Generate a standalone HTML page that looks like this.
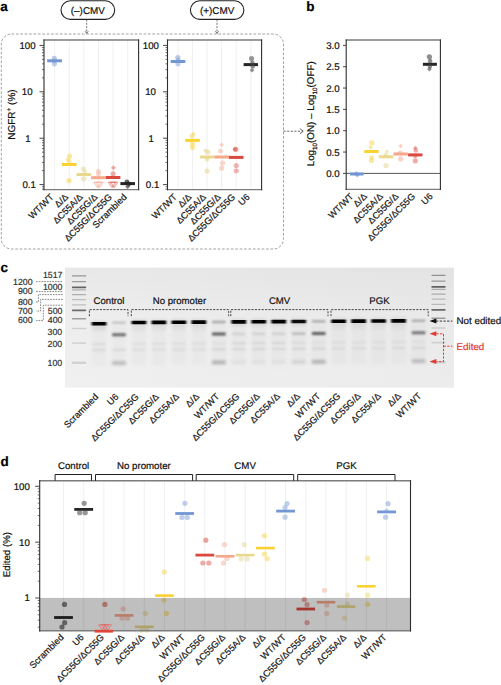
<!DOCTYPE html>
<html><head><meta charset="utf-8"><style>
html,body{margin:0;padding:0;background:#fff;width:501px;height:685px;overflow:hidden}
svg{display:block}
text{font-family:"Liberation Sans",sans-serif;text-rendering:geometricPrecision}
</style></head><body>
<svg width="501" height="685" viewBox="0 0 501 685">
<text x="0.30" y="11.40" font-size="13.5" text-anchor="start" fill="#000" stroke="#000" stroke-width="0.2" font-weight="bold">a</text>
<text x="306.20" y="11.20" font-size="13.5" text-anchor="start" fill="#000" stroke="#000" stroke-width="0.2" font-weight="bold">b</text>
<text x="0.60" y="272.20" font-size="13.5" text-anchor="start" fill="#000" stroke="#000" stroke-width="0.2" font-weight="bold">c</text>
<text x="0.40" y="466.40" font-size="13.5" text-anchor="start" fill="#000" stroke="#000" stroke-width="0.2" font-weight="bold">d</text>
<rect x="61.00" y="0.80" width="53.70" height="18.60" rx="9.3" fill="#fff" stroke="#222" stroke-width="1.1"/>
<text x="87.85" y="14.30" font-size="9.9" text-anchor="middle" fill="#111" stroke="#111" stroke-width="0.2">(–)CMV</text>
<line x1="86.70" y1="19.50" x2="86.70" y2="33.20" stroke="#444" stroke-width="0.75" stroke-dasharray="2.0,1.3"/>
<path d="M85.10 31.20L86.70 33.40L88.30 31.20" fill="none" stroke="#444" stroke-width="0.75"/>
<rect x="190.40" y="0.80" width="53.50" height="18.60" rx="9.3" fill="#fff" stroke="#222" stroke-width="1.1"/>
<text x="217.15" y="14.30" font-size="9.9" text-anchor="middle" fill="#111" stroke="#111" stroke-width="0.2">(+)CMV</text>
<line x1="217.00" y1="19.50" x2="217.00" y2="33.20" stroke="#444" stroke-width="0.75" stroke-dasharray="2.0,1.3"/>
<path d="M215.40 31.20L217.00 33.40L218.60 31.20" fill="none" stroke="#444" stroke-width="0.75"/>
<rect x="1.30" y="34.00" width="282.20" height="215.00" rx="10.2" fill="none" stroke="#7a7a7a" stroke-width="0.7" stroke-dasharray="2.7,1.7"/>
<line x1="54.60" y1="40.00" x2="54.60" y2="189.60" stroke="#ececec" stroke-width="0.8"/>
<line x1="69.22" y1="40.00" x2="69.22" y2="189.60" stroke="#ececec" stroke-width="0.8"/>
<line x1="83.84" y1="40.00" x2="83.84" y2="189.60" stroke="#ececec" stroke-width="0.8"/>
<line x1="98.46" y1="40.00" x2="98.46" y2="189.60" stroke="#ececec" stroke-width="0.8"/>
<line x1="113.08" y1="40.00" x2="113.08" y2="189.60" stroke="#ececec" stroke-width="0.8"/>
<line x1="127.70" y1="40.00" x2="127.70" y2="189.60" stroke="#ececec" stroke-width="0.8"/>
<line x1="178.00" y1="40.00" x2="178.00" y2="189.60" stroke="#ececec" stroke-width="0.8"/>
<line x1="192.56" y1="40.00" x2="192.56" y2="189.60" stroke="#ececec" stroke-width="0.8"/>
<line x1="207.12" y1="40.00" x2="207.12" y2="189.60" stroke="#ececec" stroke-width="0.8"/>
<line x1="221.68" y1="40.00" x2="221.68" y2="189.60" stroke="#ececec" stroke-width="0.8"/>
<line x1="236.24" y1="40.00" x2="236.24" y2="189.60" stroke="#ececec" stroke-width="0.8"/>
<line x1="250.80" y1="40.00" x2="250.80" y2="189.60" stroke="#ececec" stroke-width="0.8"/>
<rect x="47.20" y="59.30" width="14.80" height="3.00" rx="0" fill="#7397d4" stroke="none" stroke-width="1"/>
<circle cx="54.30" cy="58.30" r="2.6" fill="#7397d4" fill-opacity="0.5"/>
<circle cx="54.40" cy="63.80" r="2.6" fill="#7397d4" fill-opacity="0.45"/>
<circle cx="54.60" cy="61.00" r="2.4" fill="#7397d4" fill-opacity="0.4"/>
<rect x="61.92" y="163.00" width="14.60" height="3.00" rx="0" fill="#fad232" stroke="none" stroke-width="1"/>
<circle cx="69.52" cy="156.20" r="2.6" fill="#f9d444" fill-opacity="0.5"/>
<path d="M67.72 157.20L70.12 159.60L67.72 162.00L65.32 159.60Z" fill="#f9d444" fill-opacity="0.5"/>
<circle cx="69.22" cy="161.50" r="2.4" fill="#f9d444" fill-opacity="0.45"/>
<circle cx="68.92" cy="180.50" r="2.6" fill="#f9d444" fill-opacity="0.55"/>
<rect x="76.54" y="173.00" width="14.60" height="3.00" rx="0" fill="#e8d98e" stroke="none" stroke-width="1"/>
<circle cx="83.34" cy="169.00" r="2.5" fill="#e3d38a" fill-opacity="0.5"/>
<path d="M84.84 169.20L87.24 171.60L84.84 174.00L82.44 171.60Z" fill="#e3d38a" fill-opacity="0.5"/>
<circle cx="83.64" cy="178.80" r="2.6" fill="#e3d38a" fill-opacity="0.5"/>
<rect x="91.16" y="176.20" width="14.60" height="3.00" rx="0" fill="#f6a88c" stroke="none" stroke-width="1"/>
<circle cx="98.46" cy="171.40" r="2.5" fill="#f5a890" fill-opacity="0.5"/>
<circle cx="98.46" cy="174.80" r="2.4" fill="#f5a890" fill-opacity="0.45"/>
<path d="M93.56 182.22L100.76 182.22L97.16 187.62Z" fill="none" stroke="#f5a890" stroke-opacity="0.8" stroke-width="0.8"/>
<path d="M96.16 182.22L103.36 182.22L99.76 187.62Z" fill="none" stroke="#f5a890" stroke-opacity="0.8" stroke-width="0.8"/>
<path d="M94.86 182.22L102.06 182.22L98.46 187.62Z" fill="none" stroke="#f5a890" stroke-opacity="0.6" stroke-width="0.8"/>
<rect x="105.78" y="176.00" width="14.60" height="3.00" rx="0" fill="#db4a3e" stroke="none" stroke-width="1"/>
<path d="M113.38 165.30L115.88 167.80L113.38 170.30L110.88 167.80Z" fill="#d9473b" fill-opacity="0.45"/>
<circle cx="113.08" cy="173.80" r="2.5" fill="#d9473b" fill-opacity="0.45"/>
<path d="M108.18 182.22L115.38 182.22L111.78 187.62Z" fill="none" stroke="#d9473b" stroke-opacity="0.6" stroke-width="0.8"/>
<path d="M110.78 182.22L117.98 182.22L114.38 187.62Z" fill="none" stroke="#d9473b" stroke-opacity="0.6" stroke-width="0.8"/>
<path d="M109.48 182.22L116.68 182.22L113.08 187.62Z" fill="none" stroke="#d9473b" stroke-opacity="0.5" stroke-width="0.8"/>
<rect x="120.40" y="182.10" width="14.60" height="3.00" rx="0" fill="#262626" stroke="none" stroke-width="1"/>
<circle cx="126.90" cy="182.00" r="2.4" fill="#222" fill-opacity="0.7"/>
<circle cx="128.90" cy="183.80" r="2.4" fill="#222" fill-opacity="0.7"/>
<path d="M127.70 184.10L130.20 186.60L127.70 189.10L125.20 186.60Z" fill="#333" fill-opacity="0.65"/>
<rect x="170.70" y="60.00" width="14.60" height="3.00" rx="0" fill="#7397d4" stroke="none" stroke-width="1"/>
<circle cx="177.80" cy="57.60" r="2.6" fill="#7397d4" fill-opacity="0.5"/>
<circle cx="178.00" cy="63.80" r="2.6" fill="#7397d4" fill-opacity="0.45"/>
<circle cx="178.20" cy="60.20" r="2.4" fill="#7397d4" fill-opacity="0.4"/>
<rect x="185.26" y="138.90" width="14.60" height="3.00" rx="0" fill="#fad232" stroke="none" stroke-width="1"/>
<path d="M193.36 131.40L195.76 133.80L193.36 136.20L190.96 133.80Z" fill="#f9d444" fill-opacity="0.5"/>
<circle cx="192.06" cy="136.30" r="2.5" fill="#f9d444" fill-opacity="0.5"/>
<circle cx="192.56" cy="144.00" r="2.5" fill="#f9d444" fill-opacity="0.5"/>
<circle cx="192.56" cy="147.60" r="2.6" fill="#f9d444" fill-opacity="0.5"/>
<rect x="199.82" y="155.50" width="14.60" height="3.00" rx="0" fill="#e8d98e" stroke="none" stroke-width="1"/>
<path d="M205.32 148.10L207.72 150.50L205.32 152.90L202.92 150.50Z" fill="#e3d38a" fill-opacity="0.5"/>
<circle cx="207.82" cy="152.00" r="2.6" fill="#e3d38a" fill-opacity="0.55"/>
<circle cx="207.12" cy="159.30" r="2.4" fill="#e3d38a" fill-opacity="0.5"/>
<circle cx="207.12" cy="171.10" r="2.6" fill="#e3d38a" fill-opacity="0.5"/>
<rect x="214.38" y="155.50" width="14.60" height="3.00" rx="0" fill="#f6a88c" stroke="none" stroke-width="1"/>
<path d="M221.68 142.40L224.08 144.80L221.68 147.20L219.28 144.80Z" fill="#f5a890" fill-opacity="0.5"/>
<circle cx="220.48" cy="151.10" r="2.4" fill="#f5a890" fill-opacity="0.5"/>
<circle cx="222.68" cy="163.10" r="2.6" fill="#f5a890" fill-opacity="0.45"/>
<circle cx="221.68" cy="168.20" r="2.6" fill="#f5a890" fill-opacity="0.45"/>
<rect x="228.94" y="155.90" width="14.60" height="3.00" rx="0" fill="#db4a3e" stroke="none" stroke-width="1"/>
<circle cx="235.74" cy="149.30" r="2.6" fill="#d9473b" fill-opacity="0.55"/>
<path d="M234.64 147.10L236.84 149.30L234.64 151.50L232.44 149.30Z" fill="#d9473b" fill-opacity="0.5"/>
<circle cx="236.24" cy="165.50" r="2.6" fill="#d9473b" fill-opacity="0.4"/>
<circle cx="236.24" cy="170.80" r="2.6" fill="#d9473b" fill-opacity="0.4"/>
<rect x="243.60" y="63.10" width="14.40" height="3.00" rx="0" fill="#262626" stroke="none" stroke-width="1"/>
<circle cx="251.60" cy="58.60" r="2.6" fill="#444" fill-opacity="0.55"/>
<circle cx="252.40" cy="63.20" r="2.4" fill="#444" fill-opacity="0.6"/>
<path d="M252.00 67.90L254.30 70.20L252.00 72.50L249.70 70.20Z" fill="#444" fill-opacity="0.6"/>
<circle cx="252.80" cy="66.60" r="2.2" fill="#444" fill-opacity="0.6"/>
<path d="M43.4 40.0H139.2M43.4 189.6H139.2" fill="none" stroke="#7c7c7c" stroke-width="1.4"/>
<path d="M44.0 39.4V190.2M138.6 39.4V190.2" fill="none" stroke="#2e2e2e" stroke-width="1.1"/>
<path d="M166.9 40.0H262.20000000000005M166.9 189.6H262.20000000000005" fill="none" stroke="#7c7c7c" stroke-width="1.4"/>
<path d="M167.5 39.4V190.2M261.6 39.4V190.2" fill="none" stroke="#2e2e2e" stroke-width="1.1"/>
<line x1="39.50" y1="45.40" x2="44.00" y2="45.40" stroke="#333" stroke-width="0.9"/>
<line x1="39.50" y1="91.80" x2="44.00" y2="91.80" stroke="#333" stroke-width="0.9"/>
<line x1="39.50" y1="138.20" x2="44.00" y2="138.20" stroke="#333" stroke-width="0.9"/>
<line x1="39.50" y1="184.60" x2="44.00" y2="184.60" stroke="#333" stroke-width="0.9"/>
<line x1="42.00" y1="77.83" x2="44.00" y2="77.83" stroke="#333" stroke-width="0.7"/>
<line x1="42.00" y1="69.66" x2="44.00" y2="69.66" stroke="#333" stroke-width="0.7"/>
<line x1="42.00" y1="63.86" x2="44.00" y2="63.86" stroke="#333" stroke-width="0.7"/>
<line x1="42.00" y1="59.37" x2="44.00" y2="59.37" stroke="#333" stroke-width="0.7"/>
<line x1="42.00" y1="55.69" x2="44.00" y2="55.69" stroke="#333" stroke-width="0.7"/>
<line x1="42.00" y1="52.59" x2="44.00" y2="52.59" stroke="#333" stroke-width="0.7"/>
<line x1="42.00" y1="49.90" x2="44.00" y2="49.90" stroke="#333" stroke-width="0.7"/>
<line x1="42.00" y1="47.52" x2="44.00" y2="47.52" stroke="#333" stroke-width="0.7"/>
<line x1="42.00" y1="124.23" x2="44.00" y2="124.23" stroke="#333" stroke-width="0.7"/>
<line x1="42.00" y1="116.06" x2="44.00" y2="116.06" stroke="#333" stroke-width="0.7"/>
<line x1="42.00" y1="110.26" x2="44.00" y2="110.26" stroke="#333" stroke-width="0.7"/>
<line x1="42.00" y1="105.77" x2="44.00" y2="105.77" stroke="#333" stroke-width="0.7"/>
<line x1="42.00" y1="102.09" x2="44.00" y2="102.09" stroke="#333" stroke-width="0.7"/>
<line x1="42.00" y1="98.99" x2="44.00" y2="98.99" stroke="#333" stroke-width="0.7"/>
<line x1="42.00" y1="96.30" x2="44.00" y2="96.30" stroke="#333" stroke-width="0.7"/>
<line x1="42.00" y1="93.92" x2="44.00" y2="93.92" stroke="#333" stroke-width="0.7"/>
<line x1="42.00" y1="170.63" x2="44.00" y2="170.63" stroke="#333" stroke-width="0.7"/>
<line x1="42.00" y1="162.46" x2="44.00" y2="162.46" stroke="#333" stroke-width="0.7"/>
<line x1="42.00" y1="156.66" x2="44.00" y2="156.66" stroke="#333" stroke-width="0.7"/>
<line x1="42.00" y1="152.17" x2="44.00" y2="152.17" stroke="#333" stroke-width="0.7"/>
<line x1="42.00" y1="148.49" x2="44.00" y2="148.49" stroke="#333" stroke-width="0.7"/>
<line x1="42.00" y1="145.39" x2="44.00" y2="145.39" stroke="#333" stroke-width="0.7"/>
<line x1="42.00" y1="142.70" x2="44.00" y2="142.70" stroke="#333" stroke-width="0.7"/>
<line x1="42.00" y1="140.32" x2="44.00" y2="140.32" stroke="#333" stroke-width="0.7"/>
<line x1="42.00" y1="189.10" x2="44.00" y2="189.10" stroke="#333" stroke-width="0.7"/>
<line x1="42.00" y1="186.72" x2="44.00" y2="186.72" stroke="#333" stroke-width="0.7"/>
<line x1="163.00" y1="45.40" x2="167.50" y2="45.40" stroke="#333" stroke-width="0.9"/>
<line x1="163.00" y1="91.80" x2="167.50" y2="91.80" stroke="#333" stroke-width="0.9"/>
<line x1="163.00" y1="138.20" x2="167.50" y2="138.20" stroke="#333" stroke-width="0.9"/>
<line x1="163.00" y1="184.60" x2="167.50" y2="184.60" stroke="#333" stroke-width="0.9"/>
<line x1="165.50" y1="77.83" x2="167.50" y2="77.83" stroke="#333" stroke-width="0.7"/>
<line x1="165.50" y1="69.66" x2="167.50" y2="69.66" stroke="#333" stroke-width="0.7"/>
<line x1="165.50" y1="63.86" x2="167.50" y2="63.86" stroke="#333" stroke-width="0.7"/>
<line x1="165.50" y1="59.37" x2="167.50" y2="59.37" stroke="#333" stroke-width="0.7"/>
<line x1="165.50" y1="55.69" x2="167.50" y2="55.69" stroke="#333" stroke-width="0.7"/>
<line x1="165.50" y1="52.59" x2="167.50" y2="52.59" stroke="#333" stroke-width="0.7"/>
<line x1="165.50" y1="49.90" x2="167.50" y2="49.90" stroke="#333" stroke-width="0.7"/>
<line x1="165.50" y1="47.52" x2="167.50" y2="47.52" stroke="#333" stroke-width="0.7"/>
<line x1="165.50" y1="124.23" x2="167.50" y2="124.23" stroke="#333" stroke-width="0.7"/>
<line x1="165.50" y1="116.06" x2="167.50" y2="116.06" stroke="#333" stroke-width="0.7"/>
<line x1="165.50" y1="110.26" x2="167.50" y2="110.26" stroke="#333" stroke-width="0.7"/>
<line x1="165.50" y1="105.77" x2="167.50" y2="105.77" stroke="#333" stroke-width="0.7"/>
<line x1="165.50" y1="102.09" x2="167.50" y2="102.09" stroke="#333" stroke-width="0.7"/>
<line x1="165.50" y1="98.99" x2="167.50" y2="98.99" stroke="#333" stroke-width="0.7"/>
<line x1="165.50" y1="96.30" x2="167.50" y2="96.30" stroke="#333" stroke-width="0.7"/>
<line x1="165.50" y1="93.92" x2="167.50" y2="93.92" stroke="#333" stroke-width="0.7"/>
<line x1="165.50" y1="170.63" x2="167.50" y2="170.63" stroke="#333" stroke-width="0.7"/>
<line x1="165.50" y1="162.46" x2="167.50" y2="162.46" stroke="#333" stroke-width="0.7"/>
<line x1="165.50" y1="156.66" x2="167.50" y2="156.66" stroke="#333" stroke-width="0.7"/>
<line x1="165.50" y1="152.17" x2="167.50" y2="152.17" stroke="#333" stroke-width="0.7"/>
<line x1="165.50" y1="148.49" x2="167.50" y2="148.49" stroke="#333" stroke-width="0.7"/>
<line x1="165.50" y1="145.39" x2="167.50" y2="145.39" stroke="#333" stroke-width="0.7"/>
<line x1="165.50" y1="142.70" x2="167.50" y2="142.70" stroke="#333" stroke-width="0.7"/>
<line x1="165.50" y1="140.32" x2="167.50" y2="140.32" stroke="#333" stroke-width="0.7"/>
<line x1="165.50" y1="189.10" x2="167.50" y2="189.10" stroke="#333" stroke-width="0.7"/>
<line x1="165.50" y1="186.72" x2="167.50" y2="186.72" stroke="#333" stroke-width="0.7"/>
<text x="35.60" y="48.80" font-size="9.7" text-anchor="end" fill="#111" stroke="#111" stroke-width="0.2">100</text>
<text x="32.60" y="95.00" font-size="9.7" text-anchor="end" fill="#111" stroke="#111" stroke-width="0.2">10</text>
<text x="30.60" y="141.50" font-size="9.7" text-anchor="end" fill="#111" stroke="#111" stroke-width="0.2">1</text>
<text x="35.90" y="188.00" font-size="9.7" text-anchor="end" fill="#111" stroke="#111" stroke-width="0.2">0.1</text>
<text x="159.00" y="48.80" font-size="9.7" text-anchor="end" fill="#111" stroke="#111" stroke-width="0.2">100</text>
<text x="156.00" y="95.00" font-size="9.7" text-anchor="end" fill="#111" stroke="#111" stroke-width="0.2">10</text>
<text x="154.00" y="141.50" font-size="9.7" text-anchor="end" fill="#111" stroke="#111" stroke-width="0.2">1</text>
<text x="159.30" y="188.00" font-size="9.7" text-anchor="end" fill="#111" stroke="#111" stroke-width="0.2">0.1</text>
<text transform="translate(14.9 114.6) rotate(-90)" font-size="10" text-anchor="middle" fill="#111" stroke="#111" stroke-width="0.2">NGFR<tspan font-size="6.5" dy="-3.5">+</tspan><tspan dy="3.5"> (%)</tspan></text>
<text x="54.20" y="197.60" font-size="9.2" text-anchor="end" fill="#111" stroke="#111" stroke-width="0.2" transform="rotate(-45 54.2 197.6)">WT/WT</text>
<text x="68.82" y="197.60" font-size="9.2" text-anchor="end" fill="#111" stroke="#111" stroke-width="0.2" transform="rotate(-45 68.82 197.6)">Δ/Δ</text>
<text x="83.44" y="197.60" font-size="9.2" text-anchor="end" fill="#111" stroke="#111" stroke-width="0.2" transform="rotate(-45 83.44 197.6)">ΔC55A/Δ</text>
<text x="98.06" y="197.60" font-size="9.2" text-anchor="end" fill="#111" stroke="#111" stroke-width="0.2" transform="rotate(-45 98.06 197.6)">ΔC55G/Δ</text>
<text x="112.68" y="197.60" font-size="9.2" text-anchor="end" fill="#111" stroke="#111" stroke-width="0.2" transform="rotate(-45 112.67999999999999 197.6)">ΔC55G/ΔC55G</text>
<text x="127.30" y="197.60" font-size="9.2" text-anchor="end" fill="#111" stroke="#111" stroke-width="0.2" transform="rotate(-45 127.29999999999998 197.6)">Scrambled</text>
<text x="177.60" y="197.60" font-size="9.2" text-anchor="end" fill="#111" stroke="#111" stroke-width="0.2" transform="rotate(-45 177.6 197.6)">WT/WT</text>
<text x="192.16" y="197.60" font-size="9.2" text-anchor="end" fill="#111" stroke="#111" stroke-width="0.2" transform="rotate(-45 192.16 197.6)">Δ/Δ</text>
<text x="206.72" y="197.60" font-size="9.2" text-anchor="end" fill="#111" stroke="#111" stroke-width="0.2" transform="rotate(-45 206.72 197.6)">ΔC55A/Δ</text>
<text x="221.28" y="197.60" font-size="9.2" text-anchor="end" fill="#111" stroke="#111" stroke-width="0.2" transform="rotate(-45 221.28 197.6)">ΔC55G/Δ</text>
<text x="235.84" y="197.60" font-size="9.2" text-anchor="end" fill="#111" stroke="#111" stroke-width="0.2" transform="rotate(-45 235.84 197.6)">ΔC55G/ΔC55G</text>
<text x="250.40" y="197.60" font-size="9.2" text-anchor="end" fill="#111" stroke="#111" stroke-width="0.2" transform="rotate(-45 250.4 197.6)">U6</text>
<line x1="346.20" y1="173.40" x2="440.40" y2="173.40" stroke="#444" stroke-width="0.9"/>
<rect x="350.00" y="172.50" width="13.60" height="3.00" rx="0" fill="#7397d4" stroke="none" stroke-width="1"/>
<path d="M356.30 171.00L358.60 173.30L356.30 175.60L354.00 173.30Z" fill="#7397d4" fill-opacity="0.5"/>
<path d="M357.30 173.00L359.60 175.30L357.30 177.60L355.00 175.30Z" fill="#7397d4" fill-opacity="0.5"/>
<circle cx="356.80" cy="174.50" r="2" fill="#7397d4" fill-opacity="0.4"/>
<rect x="364.22" y="150.00" width="14.40" height="3.00" rx="0" fill="#fad232" stroke="none" stroke-width="1"/>
<circle cx="371.92" cy="142.90" r="2.6" fill="#f9d444" fill-opacity="0.5"/>
<path d="M370.62 144.90L372.92 147.20L370.62 149.50L368.32 147.20Z" fill="#f9d444" fill-opacity="0.5"/>
<circle cx="371.72" cy="157.60" r="2.4" fill="#f9d444" fill-opacity="0.5"/>
<circle cx="371.42" cy="160.40" r="2.6" fill="#f9d444" fill-opacity="0.5"/>
<rect x="378.84" y="155.30" width="14.40" height="3.00" rx="0" fill="#e8d98e" stroke="none" stroke-width="1"/>
<path d="M386.84 149.20L389.14 151.50L386.84 153.80L384.54 151.50Z" fill="#e3d38a" fill-opacity="0.5"/>
<circle cx="385.74" cy="155.20" r="2.4" fill="#e3d38a" fill-opacity="0.5"/>
<circle cx="386.04" cy="165.50" r="2.6" fill="#e3d38a" fill-opacity="0.5"/>
<rect x="393.46" y="152.50" width="14.40" height="3.00" rx="0" fill="#f6a88c" stroke="none" stroke-width="1"/>
<path d="M400.66 143.70L403.06 146.10L400.66 148.50L398.26 146.10Z" fill="#f5a890" fill-opacity="0.5"/>
<circle cx="400.16" cy="152.80" r="2.4" fill="#f5a890" fill-opacity="0.5"/>
<circle cx="400.66" cy="158.80" r="2.6" fill="#f5a890" fill-opacity="0.5"/>
<rect x="408.08" y="153.40" width="14.40" height="3.00" rx="0" fill="#db4a3e" stroke="none" stroke-width="1"/>
<path d="M415.28 145.70L417.58 148.00L415.28 150.30L412.98 148.00Z" fill="#d9473b" fill-opacity="0.45"/>
<circle cx="415.78" cy="150.40" r="2.3" fill="#d9473b" fill-opacity="0.45"/>
<circle cx="415.28" cy="156.00" r="2.2" fill="#d9473b" fill-opacity="0.45"/>
<circle cx="415.28" cy="160.80" r="2.6" fill="#d9473b" fill-opacity="0.45"/>
<rect x="422.90" y="62.80" width="14.00" height="3.00" rx="0" fill="#262626" stroke="none" stroke-width="1"/>
<circle cx="429.40" cy="56.80" r="2.6" fill="#444" fill-opacity="0.6"/>
<circle cx="430.10" cy="61.00" r="2.3" fill="#444" fill-opacity="0.6"/>
<circle cx="429.90" cy="66.50" r="2.2" fill="#444" fill-opacity="0.6"/>
<path d="M429.40 67.00L431.70 69.30L429.40 71.60L427.10 69.30Z" fill="#444" fill-opacity="0.6"/>
<path d="M345.59999999999997 40.0H441.0M345.59999999999997 189.4H441.0" fill="none" stroke="#7c7c7c" stroke-width="1.4"/>
<path d="M346.2 39.4V190.0M440.4 39.4V190.0" fill="none" stroke="#2e2e2e" stroke-width="1.1"/>
<line x1="343.00" y1="173.40" x2="346.20" y2="173.40" stroke="#333" stroke-width="0.9"/>
<text x="339.60" y="176.90" font-size="9.7" text-anchor="end" fill="#111" stroke="#111" stroke-width="0.2">0.0</text>
<line x1="343.00" y1="152.06" x2="346.20" y2="152.06" stroke="#333" stroke-width="0.9"/>
<text x="339.60" y="155.56" font-size="9.7" text-anchor="end" fill="#111" stroke="#111" stroke-width="0.2">0.5</text>
<line x1="343.00" y1="130.73" x2="346.20" y2="130.73" stroke="#333" stroke-width="0.9"/>
<text x="339.60" y="134.23" font-size="9.7" text-anchor="end" fill="#111" stroke="#111" stroke-width="0.2">1.0</text>
<line x1="343.00" y1="109.40" x2="346.20" y2="109.40" stroke="#333" stroke-width="0.9"/>
<text x="339.60" y="112.90" font-size="9.7" text-anchor="end" fill="#111" stroke="#111" stroke-width="0.2">1.5</text>
<line x1="343.00" y1="88.06" x2="346.20" y2="88.06" stroke="#333" stroke-width="0.9"/>
<text x="339.60" y="91.56" font-size="9.7" text-anchor="end" fill="#111" stroke="#111" stroke-width="0.2">2.0</text>
<line x1="343.00" y1="66.72" x2="346.20" y2="66.72" stroke="#333" stroke-width="0.9"/>
<text x="339.60" y="70.22" font-size="9.7" text-anchor="end" fill="#111" stroke="#111" stroke-width="0.2">2.5</text>
<line x1="343.00" y1="45.39" x2="346.20" y2="45.39" stroke="#333" stroke-width="0.9"/>
<text x="339.60" y="48.89" font-size="9.7" text-anchor="end" fill="#111" stroke="#111" stroke-width="0.2">3.0</text>
<text transform="translate(314.3 113.8) rotate(-90)" font-size="9.8" text-anchor="middle" fill="#111" stroke="#111" stroke-width="0.2">Log<tspan font-size="6.3" dy="2.2">10</tspan><tspan dy="-2.2">(ON) – Log</tspan><tspan font-size="6.3" dy="2.2">10</tspan><tspan dy="-2.2">(OFF)</tspan></text>
<line x1="283.50" y1="131.20" x2="302.50" y2="131.20" stroke="#444" stroke-width="0.8" stroke-dasharray="2.2,1.4"/>
<path d="M299.9 128.6L303.3 131.2L299.9 133.8" fill="none" stroke="#444" stroke-width="0.8"/>
<text x="354.00" y="197.00" font-size="9.2" text-anchor="end" fill="#111" stroke="#111" stroke-width="0.2" transform="rotate(-45 354.0 197.0)">WT/WT</text>
<text x="367.60" y="197.00" font-size="9.2" text-anchor="end" fill="#111" stroke="#111" stroke-width="0.2" transform="rotate(-45 367.59999999999997 197.0)">Δ/Δ</text>
<text x="383.50" y="197.00" font-size="9.2" text-anchor="end" fill="#111" stroke="#111" stroke-width="0.2" transform="rotate(-45 383.5 197.0)">ΔC55A/Δ</text>
<text x="399.00" y="197.00" font-size="9.2" text-anchor="end" fill="#111" stroke="#111" stroke-width="0.2" transform="rotate(-45 399.0 197.0)">ΔC55G/Δ</text>
<text x="415.70" y="197.00" font-size="9.2" text-anchor="end" fill="#111" stroke="#111" stroke-width="0.2" transform="rotate(-45 415.7 197.0)">ΔC55G/ΔC55G</text>
<text x="433.30" y="197.00" font-size="9.2" text-anchor="end" fill="#111" stroke="#111" stroke-width="0.2" transform="rotate(-45 433.3 197.0)">U6</text>
<defs>
<filter id="blur0" x="-20%" y="-300%" width="140%" height="700%"><feGaussianBlur stdDeviation="0.55 0.6"/></filter>
<filter id="blurM" x="-20%" y="-300%" width="140%" height="700%"><feGaussianBlur stdDeviation="0.9 0.7"/></filter>
<filter id="blur1" x="-20%" y="-300%" width="140%" height="700%"><feGaussianBlur stdDeviation="0.8 0.9"/></filter>
<filter id="blur2" x="-20%" y="-100%" width="140%" height="300%"><feGaussianBlur stdDeviation="1.4 1.6"/></filter>
<linearGradient id="gelg" x1="0" y1="0" x2="1" y2="0"><stop offset="0" stop-color="#e9e9e9"/><stop offset="1" stop-color="#e3e3e3"/></linearGradient>
<linearGradient id="gelv" x1="0" y1="0" x2="0" y2="1"><stop offset="0" stop-color="#fff" stop-opacity="0"/><stop offset="0.4" stop-color="#fff" stop-opacity="0.22"/><stop offset="1" stop-color="#fff" stop-opacity="0.32"/></linearGradient>
</defs>
<rect x="65.00" y="267.60" width="388.90" height="120.00" rx="0" fill="url(#gelg)" stroke="none" stroke-width="1"/>
<rect x="65.00" y="267.60" width="388.90" height="120.00" rx="0" fill="url(#gelv)" stroke="none" stroke-width="1"/>
<rect x="91.82" y="326.00" width="14.4" height="40" fill="#000" fill-opacity="0.02" filter="url(#blur2)"/>
<rect x="111.79" y="325.87" width="14.4" height="40" fill="#000" fill-opacity="0.02" filter="url(#blur2)"/>
<rect x="131.76" y="325.74" width="14.4" height="40" fill="#000" fill-opacity="0.02" filter="url(#blur2)"/>
<rect x="151.73" y="325.61" width="14.4" height="40" fill="#000" fill-opacity="0.02" filter="url(#blur2)"/>
<rect x="171.70" y="325.48" width="14.4" height="40" fill="#000" fill-opacity="0.02" filter="url(#blur2)"/>
<rect x="191.67" y="325.35" width="14.4" height="40" fill="#000" fill-opacity="0.02" filter="url(#blur2)"/>
<rect x="211.64" y="325.22" width="14.4" height="40" fill="#000" fill-opacity="0.02" filter="url(#blur2)"/>
<rect x="231.61" y="325.09" width="14.4" height="40" fill="#000" fill-opacity="0.02" filter="url(#blur2)"/>
<rect x="251.58" y="324.96" width="14.4" height="40" fill="#000" fill-opacity="0.02" filter="url(#blur2)"/>
<rect x="271.55" y="324.83" width="14.4" height="40" fill="#000" fill-opacity="0.02" filter="url(#blur2)"/>
<rect x="291.52" y="324.70" width="14.4" height="40" fill="#000" fill-opacity="0.02" filter="url(#blur2)"/>
<rect x="311.49" y="324.57" width="14.4" height="40" fill="#000" fill-opacity="0.02" filter="url(#blur2)"/>
<rect x="331.46" y="324.44" width="14.4" height="40" fill="#000" fill-opacity="0.02" filter="url(#blur2)"/>
<rect x="351.43" y="324.31" width="14.4" height="40" fill="#000" fill-opacity="0.02" filter="url(#blur2)"/>
<rect x="371.40" y="324.18" width="14.4" height="40" fill="#000" fill-opacity="0.02" filter="url(#blur2)"/>
<rect x="391.37" y="324.05" width="14.4" height="40" fill="#000" fill-opacity="0.02" filter="url(#blur2)"/>
<rect x="411.34" y="323.92" width="14.4" height="40" fill="#000" fill-opacity="0.02" filter="url(#blur2)"/>
<rect x="71.85" y="275.25" width="14.4" height="1.3" rx="0.8" fill="#000" fill-opacity="0.36" filter="url(#blur0)"/>
<rect x="71.85" y="281.05" width="14.4" height="1.3" rx="0.8" fill="#000" fill-opacity="0.34" filter="url(#blur0)"/>
<rect x="71.85" y="286.50" width="14.4" height="1.8" rx="0.8" fill="#000" fill-opacity="0.58" filter="url(#blur0)"/>
<rect x="71.85" y="289.30" width="14.4" height="1.2" rx="0.8" fill="#000" fill-opacity="0.26" filter="url(#blur0)"/>
<rect x="71.85" y="294.05" width="14.4" height="1.3" rx="0.8" fill="#000" fill-opacity="0.26" filter="url(#blur0)"/>
<rect x="71.85" y="299.00" width="14.4" height="1.2" rx="0.8" fill="#000" fill-opacity="0.2" filter="url(#blur0)"/>
<rect x="71.85" y="304.20" width="14.4" height="1.2" rx="0.8" fill="#000" fill-opacity="0.2" filter="url(#blur0)"/>
<rect x="71.85" y="309.50" width="14.4" height="1.8" rx="0.8" fill="#000" fill-opacity="0.55" filter="url(#blur0)"/>
<rect x="71.85" y="318.05" width="14.4" height="1.5" rx="0.8" fill="#000" fill-opacity="0.34" filter="url(#blur0)"/>
<rect x="71.85" y="327.70" width="14.4" height="1.6" rx="0.8" fill="#000" fill-opacity="0.13" filter="url(#blur0)"/>
<rect x="71.85" y="342.30" width="14.4" height="1.6" rx="0.8" fill="#000" fill-opacity="0.11" filter="url(#blur0)"/>
<rect x="71.85" y="361.40" width="14.4" height="2.6" rx="0.8" fill="#000" fill-opacity="0.12" filter="url(#blur0)"/>
<rect x="431.31" y="274.75" width="14.4" height="1.3" rx="0.8" fill="#000" fill-opacity="0.36" filter="url(#blur0)"/>
<rect x="431.31" y="280.55" width="14.4" height="1.3" rx="0.8" fill="#000" fill-opacity="0.34" filter="url(#blur0)"/>
<rect x="431.31" y="286.00" width="14.4" height="1.8" rx="0.8" fill="#000" fill-opacity="0.58" filter="url(#blur0)"/>
<rect x="431.31" y="288.80" width="14.4" height="1.2" rx="0.8" fill="#000" fill-opacity="0.26" filter="url(#blur0)"/>
<rect x="431.31" y="293.55" width="14.4" height="1.3" rx="0.8" fill="#000" fill-opacity="0.26" filter="url(#blur0)"/>
<rect x="431.31" y="298.50" width="14.4" height="1.2" rx="0.8" fill="#000" fill-opacity="0.2" filter="url(#blur0)"/>
<rect x="431.31" y="303.70" width="14.4" height="1.2" rx="0.8" fill="#000" fill-opacity="0.2" filter="url(#blur0)"/>
<rect x="431.31" y="309.00" width="14.4" height="1.8" rx="0.8" fill="#000" fill-opacity="0.55" filter="url(#blur0)"/>
<rect x="431.31" y="317.55" width="14.4" height="1.5" rx="0.8" fill="#000" fill-opacity="0.34" filter="url(#blur0)"/>
<rect x="431.31" y="327.20" width="14.4" height="1.6" rx="0.8" fill="#000" fill-opacity="0.13" filter="url(#blur0)"/>
<rect x="431.31" y="341.80" width="14.4" height="1.6" rx="0.8" fill="#000" fill-opacity="0.11" filter="url(#blur0)"/>
<rect x="431.31" y="360.90" width="14.4" height="2.6" rx="0.8" fill="#000" fill-opacity="0.12" filter="url(#blur0)"/>
<rect x="91.52" y="320.80" width="15" height="7" rx="1.2" fill="#000" fill-opacity="0.09" filter="url(#blur2)"/>
<rect x="91.72" y="322.00" width="14.6" height="3.6" rx="0.5" fill="#000" fill-opacity="1.0" filter="url(#blurM)"/>
<rect x="92.02" y="342.90" width="14.0" height="2.4" rx="1.2" fill="#000" fill-opacity="0.07" filter="url(#blur1)"/>
<rect x="92.02" y="348.80" width="14.0" height="2.4" rx="1.2" fill="#000" fill-opacity="0.08" filter="url(#blur1)"/>
<rect x="92.02" y="327.50" width="14.0" height="4" rx="1.2" fill="#000" fill-opacity="0.04" filter="url(#blur1)"/>
<rect x="111.99" y="321.47" width="14.0" height="2.4" rx="1.2" fill="#000" fill-opacity="0.2" filter="url(#blur1)"/>
<rect x="111.99" y="333.27" width="14.0" height="3.0" rx="1.2" fill="#000" fill-opacity="0.55" filter="url(#blur1)"/>
<rect x="111.99" y="348.67" width="14.0" height="2.4" rx="1.2" fill="#000" fill-opacity="0.08" filter="url(#blur1)"/>
<rect x="111.99" y="361.27" width="14.0" height="3.6" rx="1.2" fill="#000" fill-opacity="0.22" filter="url(#blur2)"/>
<rect x="131.46" y="319.54" width="15" height="7" rx="1.2" fill="#000" fill-opacity="0.09" filter="url(#blur2)"/>
<rect x="131.66" y="320.74" width="14.6" height="3.6" rx="0.5" fill="#000" fill-opacity="1.0" filter="url(#blurM)"/>
<rect x="131.96" y="342.64" width="14.0" height="2.4" rx="1.2" fill="#000" fill-opacity="0.05" filter="url(#blur1)"/>
<rect x="131.96" y="348.54" width="14.0" height="2.4" rx="1.2" fill="#000" fill-opacity="0.06" filter="url(#blur1)"/>
<rect x="131.96" y="327.24" width="14.0" height="4" rx="1.2" fill="#000" fill-opacity="0.03" filter="url(#blur1)"/>
<rect x="151.43" y="319.41" width="15" height="7" rx="1.2" fill="#000" fill-opacity="0.09" filter="url(#blur2)"/>
<rect x="151.63" y="320.61" width="14.6" height="3.6" rx="0.5" fill="#000" fill-opacity="1.0" filter="url(#blurM)"/>
<rect x="151.93" y="342.51" width="14.0" height="2.4" rx="1.2" fill="#000" fill-opacity="0.05" filter="url(#blur1)"/>
<rect x="151.93" y="348.41" width="14.0" height="2.4" rx="1.2" fill="#000" fill-opacity="0.06" filter="url(#blur1)"/>
<rect x="151.93" y="327.11" width="14.0" height="4" rx="1.2" fill="#000" fill-opacity="0.03" filter="url(#blur1)"/>
<rect x="171.40" y="319.28" width="15" height="7" rx="1.2" fill="#000" fill-opacity="0.09" filter="url(#blur2)"/>
<rect x="171.60" y="320.48" width="14.6" height="3.6" rx="0.5" fill="#000" fill-opacity="1.0" filter="url(#blurM)"/>
<rect x="171.90" y="342.38" width="14.0" height="2.4" rx="1.2" fill="#000" fill-opacity="0.05" filter="url(#blur1)"/>
<rect x="171.90" y="348.28" width="14.0" height="2.4" rx="1.2" fill="#000" fill-opacity="0.06" filter="url(#blur1)"/>
<rect x="171.90" y="326.98" width="14.0" height="4" rx="1.2" fill="#000" fill-opacity="0.03" filter="url(#blur1)"/>
<rect x="191.37" y="319.15" width="15" height="7" rx="1.2" fill="#000" fill-opacity="0.09" filter="url(#blur2)"/>
<rect x="191.57" y="320.35" width="14.6" height="3.6" rx="0.5" fill="#000" fill-opacity="1.0" filter="url(#blurM)"/>
<rect x="191.87" y="342.25" width="14.0" height="2.4" rx="1.2" fill="#000" fill-opacity="0.05" filter="url(#blur1)"/>
<rect x="191.87" y="348.15" width="14.0" height="2.4" rx="1.2" fill="#000" fill-opacity="0.06" filter="url(#blur1)"/>
<rect x="191.87" y="326.85" width="14.0" height="4" rx="1.2" fill="#000" fill-opacity="0.03" filter="url(#blur1)"/>
<rect x="211.84" y="320.82" width="14.0" height="2.4" rx="1.2" fill="#000" fill-opacity="0.3" filter="url(#blur1)"/>
<rect x="211.84" y="332.62" width="14.0" height="3.0" rx="1.2" fill="#000" fill-opacity="0.6" filter="url(#blur1)"/>
<rect x="211.84" y="348.02" width="14.0" height="2.4" rx="1.2" fill="#000" fill-opacity="0.08" filter="url(#blur1)"/>
<rect x="211.84" y="360.62" width="14.0" height="3.6" rx="1.2" fill="#000" fill-opacity="0.25" filter="url(#blur2)"/>
<rect x="211.84" y="342.12" width="14.0" height="2.4" rx="1.2" fill="#000" fill-opacity="0.04" filter="url(#blur1)"/>
<rect x="231.31" y="318.89" width="15" height="7" rx="1.2" fill="#000" fill-opacity="0.09" filter="url(#blur2)"/>
<rect x="231.51" y="320.09" width="14.6" height="3.6" rx="0.5" fill="#000" fill-opacity="1.0" filter="url(#blurM)"/>
<rect x="231.81" y="332.79" width="14.0" height="2.4" rx="1.2" fill="#000" fill-opacity="0.1" filter="url(#blur1)"/>
<rect x="231.81" y="341.99" width="14.0" height="2.4" rx="1.2" fill="#000" fill-opacity="0.07" filter="url(#blur1)"/>
<rect x="231.81" y="347.89" width="14.0" height="2.4" rx="1.2" fill="#000" fill-opacity="0.08" filter="url(#blur1)"/>
<rect x="231.81" y="360.59" width="14.0" height="3.4" rx="1.2" fill="#000" fill-opacity="0.04" filter="url(#blur2)"/>
<rect x="251.28" y="318.76" width="15" height="7" rx="1.2" fill="#000" fill-opacity="0.09" filter="url(#blur2)"/>
<rect x="251.48" y="319.96" width="14.6" height="3.6" rx="0.5" fill="#000" fill-opacity="1.0" filter="url(#blurM)"/>
<rect x="251.78" y="332.66" width="14.0" height="2.4" rx="1.2" fill="#000" fill-opacity="0.1" filter="url(#blur1)"/>
<rect x="251.78" y="341.86" width="14.0" height="2.4" rx="1.2" fill="#000" fill-opacity="0.07" filter="url(#blur1)"/>
<rect x="251.78" y="347.76" width="14.0" height="2.4" rx="1.2" fill="#000" fill-opacity="0.08" filter="url(#blur1)"/>
<rect x="251.78" y="360.46" width="14.0" height="3.4" rx="1.2" fill="#000" fill-opacity="0.04" filter="url(#blur2)"/>
<rect x="271.25" y="318.63" width="15" height="7" rx="1.2" fill="#000" fill-opacity="0.09" filter="url(#blur2)"/>
<rect x="271.45" y="319.83" width="14.6" height="3.6" rx="0.5" fill="#000" fill-opacity="1.0" filter="url(#blurM)"/>
<rect x="271.75" y="332.53" width="14.0" height="2.4" rx="1.2" fill="#000" fill-opacity="0.1" filter="url(#blur1)"/>
<rect x="271.75" y="341.73" width="14.0" height="2.4" rx="1.2" fill="#000" fill-opacity="0.07" filter="url(#blur1)"/>
<rect x="271.75" y="347.63" width="14.0" height="2.4" rx="1.2" fill="#000" fill-opacity="0.08" filter="url(#blur1)"/>
<rect x="271.75" y="360.33" width="14.0" height="3.4" rx="1.2" fill="#000" fill-opacity="0.04" filter="url(#blur2)"/>
<rect x="291.22" y="318.50" width="15" height="7" rx="1.2" fill="#000" fill-opacity="0.09" filter="url(#blur2)"/>
<rect x="291.42" y="319.70" width="14.6" height="3.6" rx="0.5" fill="#000" fill-opacity="0.95" filter="url(#blurM)"/>
<rect x="291.72" y="332.40" width="14.0" height="2.4" rx="1.2" fill="#000" fill-opacity="0.22" filter="url(#blur1)"/>
<rect x="291.72" y="341.60" width="14.0" height="2.4" rx="1.2" fill="#000" fill-opacity="0.06" filter="url(#blur1)"/>
<rect x="291.72" y="347.50" width="14.0" height="2.4" rx="1.2" fill="#000" fill-opacity="0.08" filter="url(#blur1)"/>
<rect x="291.72" y="360.20" width="14.0" height="3.4" rx="1.2" fill="#000" fill-opacity="0.1" filter="url(#blur2)"/>
<rect x="311.69" y="320.17" width="14.0" height="2.4" rx="1.2" fill="#000" fill-opacity="0.3" filter="url(#blur1)"/>
<rect x="311.69" y="331.97" width="14.0" height="3.0" rx="1.2" fill="#000" fill-opacity="0.6" filter="url(#blur1)"/>
<rect x="311.69" y="347.37" width="14.0" height="2.4" rx="1.2" fill="#000" fill-opacity="0.08" filter="url(#blur1)"/>
<rect x="311.69" y="359.97" width="14.0" height="3.6" rx="1.2" fill="#000" fill-opacity="0.25" filter="url(#blur2)"/>
<rect x="311.69" y="341.47" width="14.0" height="2.4" rx="1.2" fill="#000" fill-opacity="0.04" filter="url(#blur1)"/>
<rect x="331.16" y="318.24" width="15" height="7" rx="1.2" fill="#000" fill-opacity="0.09" filter="url(#blur2)"/>
<rect x="331.36" y="319.44" width="14.6" height="3.6" rx="0.5" fill="#000" fill-opacity="1.0" filter="url(#blurM)"/>
<rect x="331.66" y="341.34" width="14.0" height="2.4" rx="1.2" fill="#000" fill-opacity="0.05" filter="url(#blur1)"/>
<rect x="331.66" y="347.24" width="14.0" height="2.4" rx="1.2" fill="#000" fill-opacity="0.06" filter="url(#blur1)"/>
<rect x="331.66" y="325.94" width="14.0" height="4" rx="1.2" fill="#000" fill-opacity="0.03" filter="url(#blur1)"/>
<rect x="351.13" y="318.11" width="15" height="7" rx="1.2" fill="#000" fill-opacity="0.09" filter="url(#blur2)"/>
<rect x="351.33" y="319.31" width="14.6" height="3.6" rx="0.5" fill="#000" fill-opacity="1.0" filter="url(#blurM)"/>
<rect x="351.63" y="341.21" width="14.0" height="2.4" rx="1.2" fill="#000" fill-opacity="0.05" filter="url(#blur1)"/>
<rect x="351.63" y="347.11" width="14.0" height="2.4" rx="1.2" fill="#000" fill-opacity="0.06" filter="url(#blur1)"/>
<rect x="351.63" y="325.81" width="14.0" height="4" rx="1.2" fill="#000" fill-opacity="0.03" filter="url(#blur1)"/>
<rect x="371.10" y="317.98" width="15" height="7" rx="1.2" fill="#000" fill-opacity="0.09" filter="url(#blur2)"/>
<rect x="371.30" y="319.18" width="14.6" height="3.6" rx="0.5" fill="#000" fill-opacity="1.0" filter="url(#blurM)"/>
<rect x="371.60" y="341.08" width="14.0" height="2.4" rx="1.2" fill="#000" fill-opacity="0.05" filter="url(#blur1)"/>
<rect x="371.60" y="346.98" width="14.0" height="2.4" rx="1.2" fill="#000" fill-opacity="0.06" filter="url(#blur1)"/>
<rect x="371.60" y="325.68" width="14.0" height="4" rx="1.2" fill="#000" fill-opacity="0.03" filter="url(#blur1)"/>
<rect x="391.07" y="317.85" width="15" height="7" rx="1.2" fill="#000" fill-opacity="0.09" filter="url(#blur2)"/>
<rect x="391.27" y="319.05" width="14.6" height="3.6" rx="0.5" fill="#000" fill-opacity="1.0" filter="url(#blurM)"/>
<rect x="391.57" y="340.95" width="14.0" height="2.4" rx="1.2" fill="#000" fill-opacity="0.05" filter="url(#blur1)"/>
<rect x="391.57" y="346.85" width="14.0" height="2.4" rx="1.2" fill="#000" fill-opacity="0.06" filter="url(#blur1)"/>
<rect x="391.57" y="325.55" width="14.0" height="4" rx="1.2" fill="#000" fill-opacity="0.03" filter="url(#blur1)"/>
<rect x="411.54" y="319.52" width="14.0" height="2.4" rx="1.2" fill="#000" fill-opacity="0.28" filter="url(#blur1)"/>
<rect x="411.54" y="331.32" width="14.0" height="3.0" rx="1.2" fill="#000" fill-opacity="0.5" filter="url(#blur1)"/>
<rect x="411.54" y="346.72" width="14.0" height="2.4" rx="1.2" fill="#000" fill-opacity="0.07" filter="url(#blur1)"/>
<rect x="411.54" y="359.32" width="14.0" height="3.6" rx="1.2" fill="#000" fill-opacity="0.2" filter="url(#blur2)"/>
<rect x="411.54" y="340.82" width="14.0" height="2.4" rx="1.2" fill="#000" fill-opacity="0.04" filter="url(#blur1)"/>
<text x="62.50" y="278.00" font-size="8.8" text-anchor="end" fill="#333" stroke="#333" stroke-width="0.2">1517</text>
<text x="62.50" y="290.30" font-size="8.8" text-anchor="end" fill="#333" stroke="#333" stroke-width="0.2">1000</text>
<text x="62.50" y="313.60" font-size="8.8" text-anchor="end" fill="#333" stroke="#333" stroke-width="0.2">500</text>
<text x="62.50" y="323.40" font-size="8.8" text-anchor="end" fill="#333" stroke="#333" stroke-width="0.2">400</text>
<text x="62.20" y="334.80" font-size="8.8" text-anchor="end" fill="#333" stroke="#333" stroke-width="0.2">300</text>
<text x="62.20" y="347.20" font-size="8.8" text-anchor="end" fill="#333" stroke="#333" stroke-width="0.2">200</text>
<text x="62.20" y="366.20" font-size="8.8" text-anchor="end" fill="#333" stroke="#333" stroke-width="0.2">100</text>
<text x="32.60" y="284.50" font-size="8.8" text-anchor="end" fill="#333" stroke="#333" stroke-width="0.2">1200</text>
<text x="32.60" y="293.80" font-size="8.8" text-anchor="end" fill="#333" stroke="#333" stroke-width="0.2">900</text>
<text x="32.60" y="304.60" font-size="8.8" text-anchor="end" fill="#333" stroke="#333" stroke-width="0.2">800</text>
<text x="32.60" y="313.60" font-size="8.8" text-anchor="end" fill="#333" stroke="#333" stroke-width="0.2">700</text>
<text x="32.60" y="323.40" font-size="8.8" text-anchor="end" fill="#333" stroke="#333" stroke-width="0.2">600</text>
<line x1="36.10" y1="281.60" x2="62.70" y2="281.60" stroke="#555" stroke-width="0.7" stroke-dasharray="1.7,1.0"/>
<line x1="36.10" y1="291.60" x2="62.70" y2="291.60" stroke="#555" stroke-width="0.7" stroke-dasharray="1.7,1.0"/>
<path d="M62.7 294.6H38.4V302.0H36.1" fill="none" stroke="#555" stroke-width="0.7" stroke-dasharray="1.7,1.0"/>
<path d="M62.7 299.4H40.6V311.0H36.1" fill="none" stroke="#555" stroke-width="0.7" stroke-dasharray="1.7,1.0"/>
<path d="M62.7 305.2H43.3V320.6H36.1" fill="none" stroke="#555" stroke-width="0.7" stroke-dasharray="1.7,1.0"/>
<path d="M89.4 316.2V309.6H128.0V316.2" fill="none" stroke="#222" stroke-width="0.8" stroke-dasharray="2.2,1.2"/>
<text x="109.00" y="304.20" font-size="9.6" text-anchor="middle" fill="#111" stroke="#111" stroke-width="0.2">Control</text>
<path d="M131.3 316.2V309.6H228.7V316.2" fill="none" stroke="#222" stroke-width="0.8" stroke-dasharray="2.2,1.2"/>
<text x="179.50" y="304.20" font-size="9.6" text-anchor="middle" fill="#111" stroke="#111" stroke-width="0.2">No promoter</text>
<path d="M230.8 316.2V309.6H328.0V316.2" fill="none" stroke="#222" stroke-width="0.8" stroke-dasharray="2.2,1.2"/>
<text x="279.60" y="304.20" font-size="9.6" text-anchor="middle" fill="#111" stroke="#111" stroke-width="0.2">CMV</text>
<path d="M331.0 316.2V309.6H428.2V316.2" fill="none" stroke="#222" stroke-width="0.8" stroke-dasharray="2.2,1.2"/>
<text x="379.50" y="304.20" font-size="9.6" text-anchor="middle" fill="#111" stroke="#111" stroke-width="0.2">PGK</text>
<line x1="436.00" y1="321.10" x2="452.40" y2="321.10" stroke="#222" stroke-width="0.9" stroke-dasharray="2.3,1.4"/>
<path d="M429.5 321.1L436.4 318.6L436.4 323.6Z" fill="#111"/>
<path d="M436.4 333.8H443.5V361.6H436.4" fill="none" stroke="#e23b33" stroke-width="1.0" stroke-dasharray="2.3,1.4"/>
<line x1="443.50" y1="346.20" x2="452.40" y2="346.20" stroke="#e23b33" stroke-width="1.0" stroke-dasharray="2.3,1.4"/>
<path d="M429.5 333.8L436.4 331.3L436.4 336.3Z" fill="#e23b33"/>
<path d="M429.5 361.6L436.4 359.1L436.4 364.1Z" fill="#e23b33"/>
<text x="456.50" y="324.00" font-size="9.8" text-anchor="start" fill="#111" stroke="#111" stroke-width="0.2">Not edited</text>
<text x="456.50" y="350.20" font-size="9.8" text-anchor="start" fill="#e23b33" stroke="#e23b33" stroke-width="0.2">Edited</text>
<text x="98.82" y="397.50" font-size="9.2" text-anchor="end" fill="#111" stroke="#111" stroke-width="0.2" transform="rotate(-45 98.82 397.5)">Scrambled</text>
<text x="119.01" y="397.44" font-size="9.2" text-anchor="end" fill="#111" stroke="#111" stroke-width="0.2" transform="rotate(-45 119.00999999999999 397.44)">U6</text>
<text x="139.20" y="397.38" font-size="9.2" text-anchor="end" fill="#111" stroke="#111" stroke-width="0.2" transform="rotate(-45 139.2 397.38)">ΔC55G/ΔC55G</text>
<text x="159.39" y="397.32" font-size="9.2" text-anchor="end" fill="#111" stroke="#111" stroke-width="0.2" transform="rotate(-45 159.39000000000001 397.32)">ΔC55G/Δ</text>
<text x="179.58" y="397.26" font-size="9.2" text-anchor="end" fill="#111" stroke="#111" stroke-width="0.2" transform="rotate(-45 179.57999999999998 397.26)">ΔC55A/Δ</text>
<text x="199.77" y="397.20" font-size="9.2" text-anchor="end" fill="#111" stroke="#111" stroke-width="0.2" transform="rotate(-45 199.77 397.2)">Δ/Δ</text>
<text x="219.96" y="397.14" font-size="9.2" text-anchor="end" fill="#111" stroke="#111" stroke-width="0.2" transform="rotate(-45 219.95999999999998 397.14)">WT/WT</text>
<text x="240.15" y="397.08" font-size="9.2" text-anchor="end" fill="#111" stroke="#111" stroke-width="0.2" transform="rotate(-45 240.15 397.08)">ΔC55G/ΔC55G</text>
<text x="260.34" y="397.02" font-size="9.2" text-anchor="end" fill="#111" stroke="#111" stroke-width="0.2" transform="rotate(-45 260.34 397.02)">ΔC55G/Δ</text>
<text x="280.53" y="396.96" font-size="9.2" text-anchor="end" fill="#111" stroke="#111" stroke-width="0.2" transform="rotate(-45 280.53000000000003 396.96)">ΔC55A/Δ</text>
<text x="300.72" y="396.90" font-size="9.2" text-anchor="end" fill="#111" stroke="#111" stroke-width="0.2" transform="rotate(-45 300.71999999999997 396.9)">Δ/Δ</text>
<text x="320.91" y="396.84" font-size="9.2" text-anchor="end" fill="#111" stroke="#111" stroke-width="0.2" transform="rotate(-45 320.91 396.84)">WT/WT</text>
<text x="341.10" y="396.78" font-size="9.2" text-anchor="end" fill="#111" stroke="#111" stroke-width="0.2" transform="rotate(-45 341.1 396.78)">ΔC55G/ΔC55G</text>
<text x="361.29" y="396.72" font-size="9.2" text-anchor="end" fill="#111" stroke="#111" stroke-width="0.2" transform="rotate(-45 361.29 396.72)">ΔC55G/Δ</text>
<text x="381.48" y="396.66" font-size="9.2" text-anchor="end" fill="#111" stroke="#111" stroke-width="0.2" transform="rotate(-45 381.47999999999996 396.66)">ΔC55A/Δ</text>
<text x="401.67" y="396.60" font-size="9.2" text-anchor="end" fill="#111" stroke="#111" stroke-width="0.2" transform="rotate(-45 401.67 396.6)">Δ/Δ</text>
<text x="421.86" y="396.54" font-size="9.2" text-anchor="end" fill="#111" stroke="#111" stroke-width="0.2" transform="rotate(-45 421.86 396.54)">WT/WT</text>
<line x1="63.50" y1="480.80" x2="63.50" y2="630.80" stroke="#ececec" stroke-width="0.8"/>
<line x1="83.69" y1="480.80" x2="83.69" y2="630.80" stroke="#ececec" stroke-width="0.8"/>
<line x1="103.88" y1="480.80" x2="103.88" y2="630.80" stroke="#ececec" stroke-width="0.8"/>
<line x1="124.07" y1="480.80" x2="124.07" y2="630.80" stroke="#ececec" stroke-width="0.8"/>
<line x1="144.26" y1="480.80" x2="144.26" y2="630.80" stroke="#ececec" stroke-width="0.8"/>
<line x1="164.45" y1="480.80" x2="164.45" y2="630.80" stroke="#ececec" stroke-width="0.8"/>
<line x1="184.64" y1="480.80" x2="184.64" y2="630.80" stroke="#ececec" stroke-width="0.8"/>
<line x1="204.83" y1="480.80" x2="204.83" y2="630.80" stroke="#ececec" stroke-width="0.8"/>
<line x1="225.02" y1="480.80" x2="225.02" y2="630.80" stroke="#ececec" stroke-width="0.8"/>
<line x1="245.21" y1="480.80" x2="245.21" y2="630.80" stroke="#ececec" stroke-width="0.8"/>
<line x1="265.40" y1="480.80" x2="265.40" y2="630.80" stroke="#ececec" stroke-width="0.8"/>
<line x1="285.59" y1="480.80" x2="285.59" y2="630.80" stroke="#ececec" stroke-width="0.8"/>
<line x1="305.78" y1="480.80" x2="305.78" y2="630.80" stroke="#ececec" stroke-width="0.8"/>
<line x1="325.97" y1="480.80" x2="325.97" y2="630.80" stroke="#ececec" stroke-width="0.8"/>
<line x1="346.16" y1="480.80" x2="346.16" y2="630.80" stroke="#ececec" stroke-width="0.8"/>
<line x1="366.35" y1="480.80" x2="366.35" y2="630.80" stroke="#ececec" stroke-width="0.8"/>
<line x1="386.54" y1="480.80" x2="386.54" y2="630.80" stroke="#ececec" stroke-width="0.8"/>
<rect x="54.10" y="616.10" width="18.80" height="2.80" rx="0" fill="#262626" stroke="none" stroke-width="1"/>
<circle cx="64.50" cy="604.40" r="2.6" fill="#444" fill-opacity="0.65"/>
<circle cx="64.70" cy="622.70" r="2.6" fill="#444" fill-opacity="0.65"/>
<circle cx="62.00" cy="627.00" r="2.6" fill="#444" fill-opacity="0.65"/>
<rect x="74.29" y="508.00" width="18.80" height="2.80" rx="0" fill="#262626" stroke="none" stroke-width="1"/>
<circle cx="84.19" cy="503.30" r="2.6" fill="#444" fill-opacity="0.55"/>
<circle cx="79.69" cy="512.70" r="2.6" fill="#444" fill-opacity="0.55"/>
<circle cx="85.19" cy="512.70" r="2.6" fill="#444" fill-opacity="0.55"/>
<circle cx="104.88" cy="604.40" r="2.6" fill="#d9473b" fill-opacity="0.55"/>
<rect x="114.67" y="614.10" width="18.80" height="2.60" rx="0" fill="#f6a88c" stroke="none" stroke-width="1"/>
<circle cx="123.07" cy="608.80" r="2.6" fill="#f5a890" fill-opacity="0.5"/>
<circle cx="122.07" cy="618.20" r="2.6" fill="#f5a890" fill-opacity="0.5"/>
<circle cx="127.57" cy="618.20" r="2.6" fill="#f5a890" fill-opacity="0.5"/>
<rect x="134.86" y="625.50" width="18.80" height="2.60" rx="0" fill="#e8d98e" stroke="none" stroke-width="1"/>
<circle cx="145.26" cy="613.40" r="2.6" fill="#e3d38a" fill-opacity="0.5"/>
<circle cx="141.76" cy="630.30" r="2.6" fill="#e3d38a" fill-opacity="0.5"/>
<circle cx="146.76" cy="630.30" r="2.6" fill="#e3d38a" fill-opacity="0.5"/>
<rect x="155.15" y="594.30" width="18.60" height="2.60" rx="0" fill="#fad232" stroke="none" stroke-width="1"/>
<circle cx="164.15" cy="572.10" r="2.6" fill="#f9d444" fill-opacity="0.5"/>
<circle cx="163.95" cy="600.00" r="2.6" fill="#f9d444" fill-opacity="0.5"/>
<circle cx="166.45" cy="613.40" r="2.6" fill="#f9d444" fill-opacity="0.5"/>
<rect x="175.24" y="512.10" width="18.80" height="2.80" rx="0" fill="#7397d4" stroke="none" stroke-width="1"/>
<circle cx="184.94" cy="503.30" r="2.6" fill="#7397d4" fill-opacity="0.45"/>
<circle cx="181.94" cy="517.40" r="2.6" fill="#7397d4" fill-opacity="0.45"/>
<circle cx="187.34" cy="517.40" r="2.6" fill="#7397d4" fill-opacity="0.45"/>
<rect x="195.43" y="553.70" width="18.80" height="2.80" rx="0" fill="#db4a3e" stroke="none" stroke-width="1"/>
<circle cx="205.83" cy="540.20" r="2.6" fill="#d9473b" fill-opacity="0.5"/>
<circle cx="202.83" cy="563.00" r="2.6" fill="#d9473b" fill-opacity="0.45"/>
<circle cx="208.83" cy="563.00" r="2.6" fill="#d9473b" fill-opacity="0.45"/>
<rect x="215.62" y="555.00" width="18.80" height="2.60" rx="0" fill="#f6a88c" stroke="none" stroke-width="1"/>
<circle cx="224.52" cy="544.60" r="2.6" fill="#f5a890" fill-opacity="0.45"/>
<circle cx="227.02" cy="558.40" r="2.6" fill="#f5a890" fill-opacity="0.45"/>
<circle cx="223.52" cy="563.00" r="2.6" fill="#f5a890" fill-opacity="0.45"/>
<rect x="235.81" y="553.80" width="18.80" height="2.60" rx="0" fill="#e8d98e" stroke="none" stroke-width="1"/>
<circle cx="244.21" cy="544.60" r="2.6" fill="#e3d38a" fill-opacity="0.45"/>
<circle cx="241.21" cy="558.90" r="2.6" fill="#e3d38a" fill-opacity="0.45"/>
<circle cx="247.21" cy="558.90" r="2.6" fill="#e3d38a" fill-opacity="0.45"/>
<rect x="256.00" y="546.80" width="18.80" height="2.60" rx="0" fill="#fad232" stroke="none" stroke-width="1"/>
<circle cx="264.40" cy="535.80" r="2.6" fill="#f9d444" fill-opacity="0.5"/>
<circle cx="264.40" cy="554.00" r="2.6" fill="#f9d444" fill-opacity="0.5"/>
<circle cx="267.20" cy="558.70" r="2.6" fill="#f9d444" fill-opacity="0.5"/>
<rect x="276.19" y="509.70" width="18.80" height="2.80" rx="0" fill="#7397d4" stroke="none" stroke-width="1"/>
<circle cx="287.09" cy="503.60" r="2.6" fill="#7397d4" fill-opacity="0.45"/>
<circle cx="285.09" cy="507.70" r="2.6" fill="#7397d4" fill-opacity="0.45"/>
<circle cx="285.09" cy="517.20" r="2.6" fill="#7397d4" fill-opacity="0.45"/>
<rect x="296.48" y="607.60" width="18.60" height="2.80" rx="0" fill="#db4a3e" stroke="none" stroke-width="1"/>
<circle cx="304.28" cy="599.50" r="2.6" fill="#d9473b" fill-opacity="0.45"/>
<circle cx="307.08" cy="604.60" r="2.6" fill="#d9473b" fill-opacity="0.45"/>
<circle cx="307.08" cy="622.60" r="2.6" fill="#d9473b" fill-opacity="0.45"/>
<rect x="316.67" y="600.90" width="18.60" height="2.60" rx="0" fill="#f6a88c" stroke="none" stroke-width="1"/>
<circle cx="324.47" cy="590.30" r="2.6" fill="#f5a890" fill-opacity="0.45"/>
<circle cx="326.77" cy="605.00" r="2.6" fill="#f5a890" fill-opacity="0.45"/>
<circle cx="326.77" cy="613.40" r="2.6" fill="#f5a890" fill-opacity="0.45"/>
<rect x="336.86" y="605.30" width="18.60" height="2.60" rx="0" fill="#e8d98e" stroke="none" stroke-width="1"/>
<circle cx="347.46" cy="595.10" r="2.6" fill="#e3d38a" fill-opacity="0.45"/>
<circle cx="347.46" cy="604.00" r="2.6" fill="#e3d38a" fill-opacity="0.45"/>
<circle cx="344.56" cy="618.20" r="2.6" fill="#e3d38a" fill-opacity="0.45"/>
<rect x="357.05" y="585.00" width="18.60" height="2.60" rx="0" fill="#fad232" stroke="none" stroke-width="1"/>
<circle cx="367.65" cy="558.40" r="2.6" fill="#f9d444" fill-opacity="0.45"/>
<circle cx="367.65" cy="595.10" r="2.6" fill="#f9d444" fill-opacity="0.45"/>
<circle cx="367.65" cy="604.40" r="2.6" fill="#f9d444" fill-opacity="0.5"/>
<rect x="377.14" y="510.50" width="18.80" height="2.80" rx="0" fill="#7397d4" stroke="none" stroke-width="1"/>
<circle cx="388.04" cy="503.70" r="2.6" fill="#7397d4" fill-opacity="0.45"/>
<circle cx="385.54" cy="517.20" r="2.6" fill="#7397d4" fill-opacity="0.45"/>
<circle cx="386.54" cy="510.50" r="2.2" fill="#7397d4" fill-opacity="0.35"/>
<rect x="39.70" y="597.90" width="370.80" height="32.90" rx="0" fill="#000" stroke="none" stroke-width="1" fill-opacity="0.25"/>
<path d="M39.1 480.8H411.1M39.1 630.8H411.1" fill="none" stroke="#7c7c7c" stroke-width="1.4"/>
<path d="M39.7 480.2V631.4M410.5 480.2V631.4" fill="none" stroke="#2e2e2e" stroke-width="1.1"/>
<line x1="35.20" y1="486.30" x2="39.70" y2="486.30" stroke="#333" stroke-width="0.9"/>
<line x1="35.20" y1="542.15" x2="39.70" y2="542.15" stroke="#333" stroke-width="0.9"/>
<line x1="35.20" y1="598.00" x2="39.70" y2="598.00" stroke="#333" stroke-width="0.9"/>
<line x1="37.70" y1="525.34" x2="39.70" y2="525.34" stroke="#333" stroke-width="0.7"/>
<line x1="37.70" y1="515.50" x2="39.70" y2="515.50" stroke="#333" stroke-width="0.7"/>
<line x1="37.70" y1="508.52" x2="39.70" y2="508.52" stroke="#333" stroke-width="0.7"/>
<line x1="37.70" y1="503.11" x2="39.70" y2="503.11" stroke="#333" stroke-width="0.7"/>
<line x1="37.70" y1="498.69" x2="39.70" y2="498.69" stroke="#333" stroke-width="0.7"/>
<line x1="37.70" y1="494.95" x2="39.70" y2="494.95" stroke="#333" stroke-width="0.7"/>
<line x1="37.70" y1="491.71" x2="39.70" y2="491.71" stroke="#333" stroke-width="0.7"/>
<line x1="37.70" y1="488.86" x2="39.70" y2="488.86" stroke="#333" stroke-width="0.7"/>
<line x1="37.70" y1="581.19" x2="39.70" y2="581.19" stroke="#333" stroke-width="0.7"/>
<line x1="37.70" y1="571.35" x2="39.70" y2="571.35" stroke="#333" stroke-width="0.7"/>
<line x1="37.70" y1="564.37" x2="39.70" y2="564.37" stroke="#333" stroke-width="0.7"/>
<line x1="37.70" y1="558.96" x2="39.70" y2="558.96" stroke="#333" stroke-width="0.7"/>
<line x1="37.70" y1="554.54" x2="39.70" y2="554.54" stroke="#333" stroke-width="0.7"/>
<line x1="37.70" y1="550.80" x2="39.70" y2="550.80" stroke="#333" stroke-width="0.7"/>
<line x1="37.70" y1="547.56" x2="39.70" y2="547.56" stroke="#333" stroke-width="0.7"/>
<line x1="37.70" y1="544.71" x2="39.70" y2="544.71" stroke="#333" stroke-width="0.7"/>
<line x1="37.70" y1="627.20" x2="39.70" y2="627.20" stroke="#333" stroke-width="0.7"/>
<line x1="37.70" y1="620.22" x2="39.70" y2="620.22" stroke="#333" stroke-width="0.7"/>
<line x1="37.70" y1="614.81" x2="39.70" y2="614.81" stroke="#333" stroke-width="0.7"/>
<line x1="37.70" y1="610.39" x2="39.70" y2="610.39" stroke="#333" stroke-width="0.7"/>
<line x1="37.70" y1="606.65" x2="39.70" y2="606.65" stroke="#333" stroke-width="0.7"/>
<line x1="37.70" y1="603.41" x2="39.70" y2="603.41" stroke="#333" stroke-width="0.7"/>
<line x1="37.70" y1="600.56" x2="39.70" y2="600.56" stroke="#333" stroke-width="0.7"/>
<rect x="94.58" y="629.80" width="18.60" height="2.80" rx="0" fill="#e0463a" stroke="none" stroke-width="1"/>
<path d="M98.78 624.78L105.78 624.78L102.28 630.03Z" fill="none" stroke="#e8605a" stroke-opacity="0.9" stroke-width="0.8"/>
<path d="M104.38 624.78L111.38 624.78L107.88 630.03Z" fill="none" stroke="#e8605a" stroke-opacity="0.9" stroke-width="0.8"/>
<path d="M101.58 624.78L108.58 624.78L105.08 630.03Z" fill="none" stroke="#e8605a" stroke-opacity="0.9" stroke-width="0.8"/>
<text x="29.90" y="489.80" font-size="9.7" text-anchor="end" fill="#111" stroke="#111" stroke-width="0.2">100</text>
<text x="29.90" y="545.50" font-size="9.7" text-anchor="end" fill="#111" stroke="#111" stroke-width="0.2">10</text>
<text x="29.90" y="601.40" font-size="9.7" text-anchor="end" fill="#111" stroke="#111" stroke-width="0.2">1</text>
<text transform="translate(9.7 554.6) rotate(-90)" font-size="9.7" text-anchor="middle" fill="#111" stroke="#111" stroke-width="0.2">Edited (%)</text>
<path d="M55.1 480.8V474.5H91.5V480.8" fill="none" stroke="#222" stroke-width="1.0"/>
<text x="73.60" y="468.90" font-size="9.7" text-anchor="middle" fill="#111" stroke="#111" stroke-width="0.2">Control</text>
<path d="M95.5 480.8V474.5H192.6V480.8" fill="none" stroke="#222" stroke-width="1.0"/>
<text x="143.90" y="468.90" font-size="9.7" text-anchor="middle" fill="#111" stroke="#111" stroke-width="0.2">No promoter</text>
<path d="M196.2 480.8V474.5H293.7V480.8" fill="none" stroke="#222" stroke-width="1.0"/>
<text x="245.10" y="468.90" font-size="9.7" text-anchor="middle" fill="#111" stroke="#111" stroke-width="0.2">CMV</text>
<path d="M297.7 480.8V474.5H395.0V480.8" fill="none" stroke="#222" stroke-width="1.0"/>
<text x="346.60" y="468.90" font-size="9.7" text-anchor="middle" fill="#111" stroke="#111" stroke-width="0.2">PGK</text>
<text x="64.30" y="638.00" font-size="9.2" text-anchor="end" fill="#111" stroke="#111" stroke-width="0.2" transform="rotate(-45 64.3 638.0)">Scrambled</text>
<text x="84.49" y="638.00" font-size="9.2" text-anchor="end" fill="#111" stroke="#111" stroke-width="0.2" transform="rotate(-45 84.49 638.0)">U6</text>
<text x="104.68" y="638.00" font-size="9.2" text-anchor="end" fill="#111" stroke="#111" stroke-width="0.2" transform="rotate(-45 104.67999999999999 638.0)">ΔC55G/ΔC55G</text>
<text x="124.87" y="638.00" font-size="9.2" text-anchor="end" fill="#111" stroke="#111" stroke-width="0.2" transform="rotate(-45 124.87 638.0)">ΔC55G/Δ</text>
<text x="145.06" y="638.00" font-size="9.2" text-anchor="end" fill="#111" stroke="#111" stroke-width="0.2" transform="rotate(-45 145.06 638.0)">ΔC55A/Δ</text>
<text x="165.25" y="638.00" font-size="9.2" text-anchor="end" fill="#111" stroke="#111" stroke-width="0.2" transform="rotate(-45 165.25 638.0)">Δ/Δ</text>
<text x="185.44" y="638.00" font-size="9.2" text-anchor="end" fill="#111" stroke="#111" stroke-width="0.2" transform="rotate(-45 185.44000000000003 638.0)">WT/WT</text>
<text x="205.63" y="638.00" font-size="9.2" text-anchor="end" fill="#111" stroke="#111" stroke-width="0.2" transform="rotate(-45 205.63000000000002 638.0)">ΔC55G/ΔC55G</text>
<text x="225.82" y="638.00" font-size="9.2" text-anchor="end" fill="#111" stroke="#111" stroke-width="0.2" transform="rotate(-45 225.82000000000002 638.0)">ΔC55G/Δ</text>
<text x="246.01" y="638.00" font-size="9.2" text-anchor="end" fill="#111" stroke="#111" stroke-width="0.2" transform="rotate(-45 246.01000000000002 638.0)">ΔC55A/Δ</text>
<text x="266.20" y="638.00" font-size="9.2" text-anchor="end" fill="#111" stroke="#111" stroke-width="0.2" transform="rotate(-45 266.2 638.0)">Δ/Δ</text>
<text x="286.39" y="638.00" font-size="9.2" text-anchor="end" fill="#111" stroke="#111" stroke-width="0.2" transform="rotate(-45 286.39000000000004 638.0)">WT/WT</text>
<text x="306.58" y="638.00" font-size="9.2" text-anchor="end" fill="#111" stroke="#111" stroke-width="0.2" transform="rotate(-45 306.58000000000004 638.0)">ΔC55G/ΔC55G</text>
<text x="326.77" y="638.00" font-size="9.2" text-anchor="end" fill="#111" stroke="#111" stroke-width="0.2" transform="rotate(-45 326.77000000000004 638.0)">ΔC55G/Δ</text>
<text x="346.96" y="638.00" font-size="9.2" text-anchor="end" fill="#111" stroke="#111" stroke-width="0.2" transform="rotate(-45 346.96000000000004 638.0)">ΔC55A/Δ</text>
<text x="367.15" y="638.00" font-size="9.2" text-anchor="end" fill="#111" stroke="#111" stroke-width="0.2" transform="rotate(-45 367.15000000000003 638.0)">Δ/Δ</text>
<text x="387.34" y="638.00" font-size="9.2" text-anchor="end" fill="#111" stroke="#111" stroke-width="0.2" transform="rotate(-45 387.34000000000003 638.0)">WT/WT</text>
</svg>
</body></html>
